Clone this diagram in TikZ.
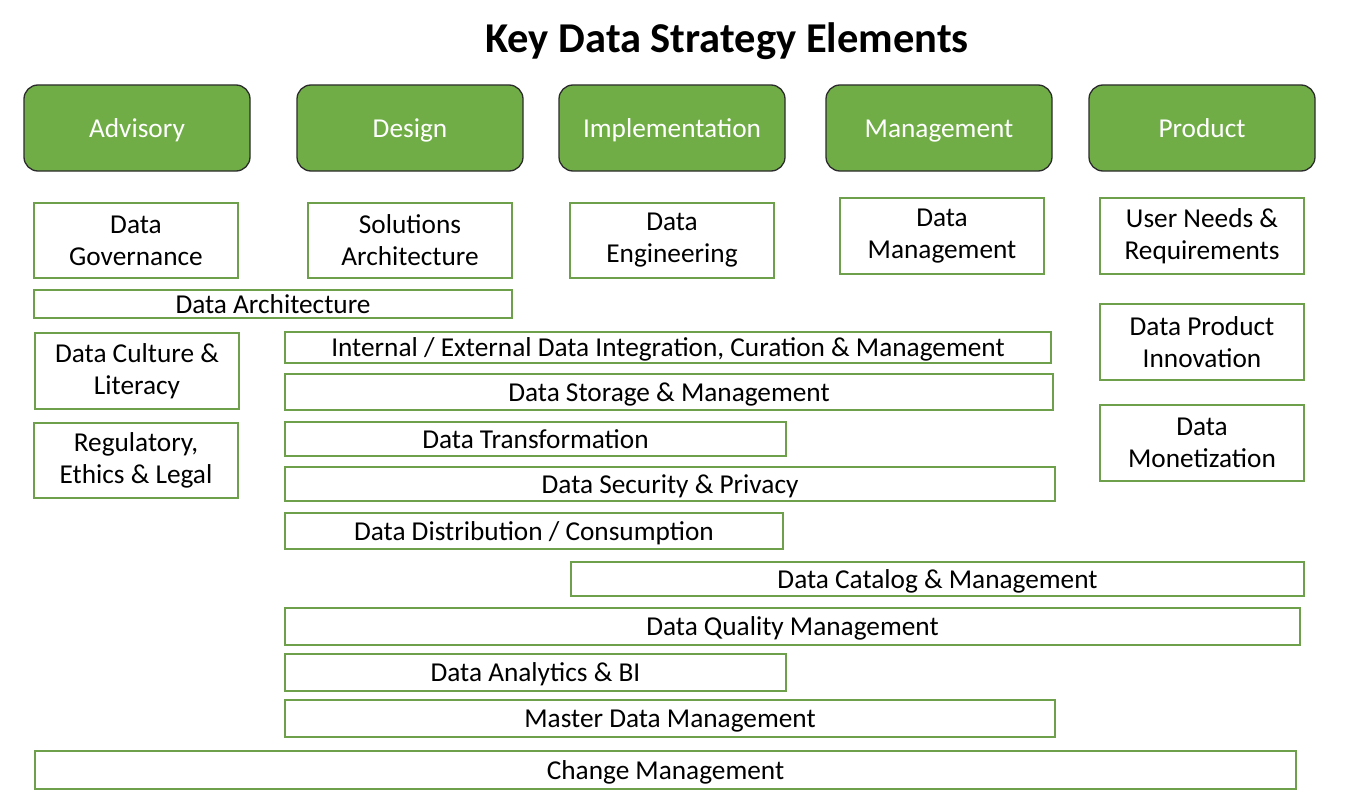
\documentclass[tikz,border=0pt]{standalone}
\usepackage{fontspec}
\setmainfont{Carlito}
\definecolor{ogreen}{HTML}{70AD47}
\definecolor{bgreen}{HTML}{6E9F4A}
\definecolor{dborder}{HTML}{2B2B2B}
\begin{document}
\begin{tikzpicture}[x=1pt,y=-1pt,
  hdr/.style={draw=dborder,line width=1.3pt,fill=ogreen,rounded corners=14pt,text=white,
     minimum width=226pt,minimum height=86pt,inner sep=0pt,text height=20pt,text depth=2pt,
     font=\fontsize{27.3}{32}\selectfont},
  wb/.style={draw=bgreen,line width=1.5pt,fill=white,inner sep=0pt,align=center,
     font=\fontsize{27.3}{32}\selectfont},
  sq/.style={wb,minimum width=204pt,minimum height=75pt},
  bar/.style={wb,text height=20pt,text depth=2pt}
]
\useasboundingbox (0,0) rectangle (1358,808);
\node[font=\fontsize{42.5}{50}\selectfont\bfseries] (title) at (727,41) {Key Data Strategy Elements};

\node[hdr] (adv) at (137,128) {Advisory};
\node[hdr] (des) at (410,128) {Design};
\node[hdr] (imp) at (672,128) {Implementation};
\node[hdr] (man) at (939,128) {Management};
\node[hdr] (pro) at (1202,128) {Product};

\node[sq] (gov) at (136,240.5) {Data\\Governance};
\node[sq] (sol) at (410,240.5) {Solutions\\Architecture};
\node[sq] (eng) at (672,240.5) {Data\\Engineering};
\node[sq,minimum height=76pt] (dm) at (942,236) {Data\\Management};
\node[sq,minimum height=76pt] (usr) at (1202,236) {User Needs \&\\Requirements};

\node[bar,minimum width=478pt,minimum height=28pt] (arch) at (273,304) {Data Architecture};
\node[sq,minimum height=76pt] (cult) at (137,371) {Data Culture \&\\Literacy};
\node[sq] (reg) at (136,460.5) {Regulatory,\\Ethics \& Legal};

\node[bar,minimum width=766pt,minimum height=31pt] (int) at (668,347.5) {Internal / External Data Integration, Curation \& Management};
\node[bar,minimum width=768pt,minimum height=36pt] (sto) at (669,392) {Data Storage \& Management};
\node[bar,minimum width=501pt,minimum height=34pt] (trf) at (535.5,439) {Data Transformation};
\node[bar,minimum width=770pt,minimum height=34pt] (sec) at (670,484) {Data Security \& Privacy};
\node[bar,minimum width=498pt,minimum height=36pt] (dist) at (534,531) {Data Distribution / Consumption};

\node[sq,minimum height=76pt] (inn) at (1202,342) {Data Product\\Innovation};
\node[sq,minimum height=76pt] (mon) at (1202,443) {Data\\Monetization};

\node[bar,minimum width=733pt,minimum height=34pt] (cat) at (937.5,579) {Data Catalog \& Management};
\node[bar,minimum width=1015pt,minimum height=37pt] (qual) at (792.5,626.5) {Data Quality Management};
\node[bar,minimum width=501pt,minimum height=37pt] (ana) at (535.5,672.5) {Data Analytics \& BI};
\node[bar,minimum width=770pt,minimum height=37pt] (mdm) at (670,718.5) {Master Data Management};
\node[bar,minimum width=1261pt,minimum height=38pt] (chg) at (665.5,770) {Change Management};
\end{tikzpicture}
\end{document}
